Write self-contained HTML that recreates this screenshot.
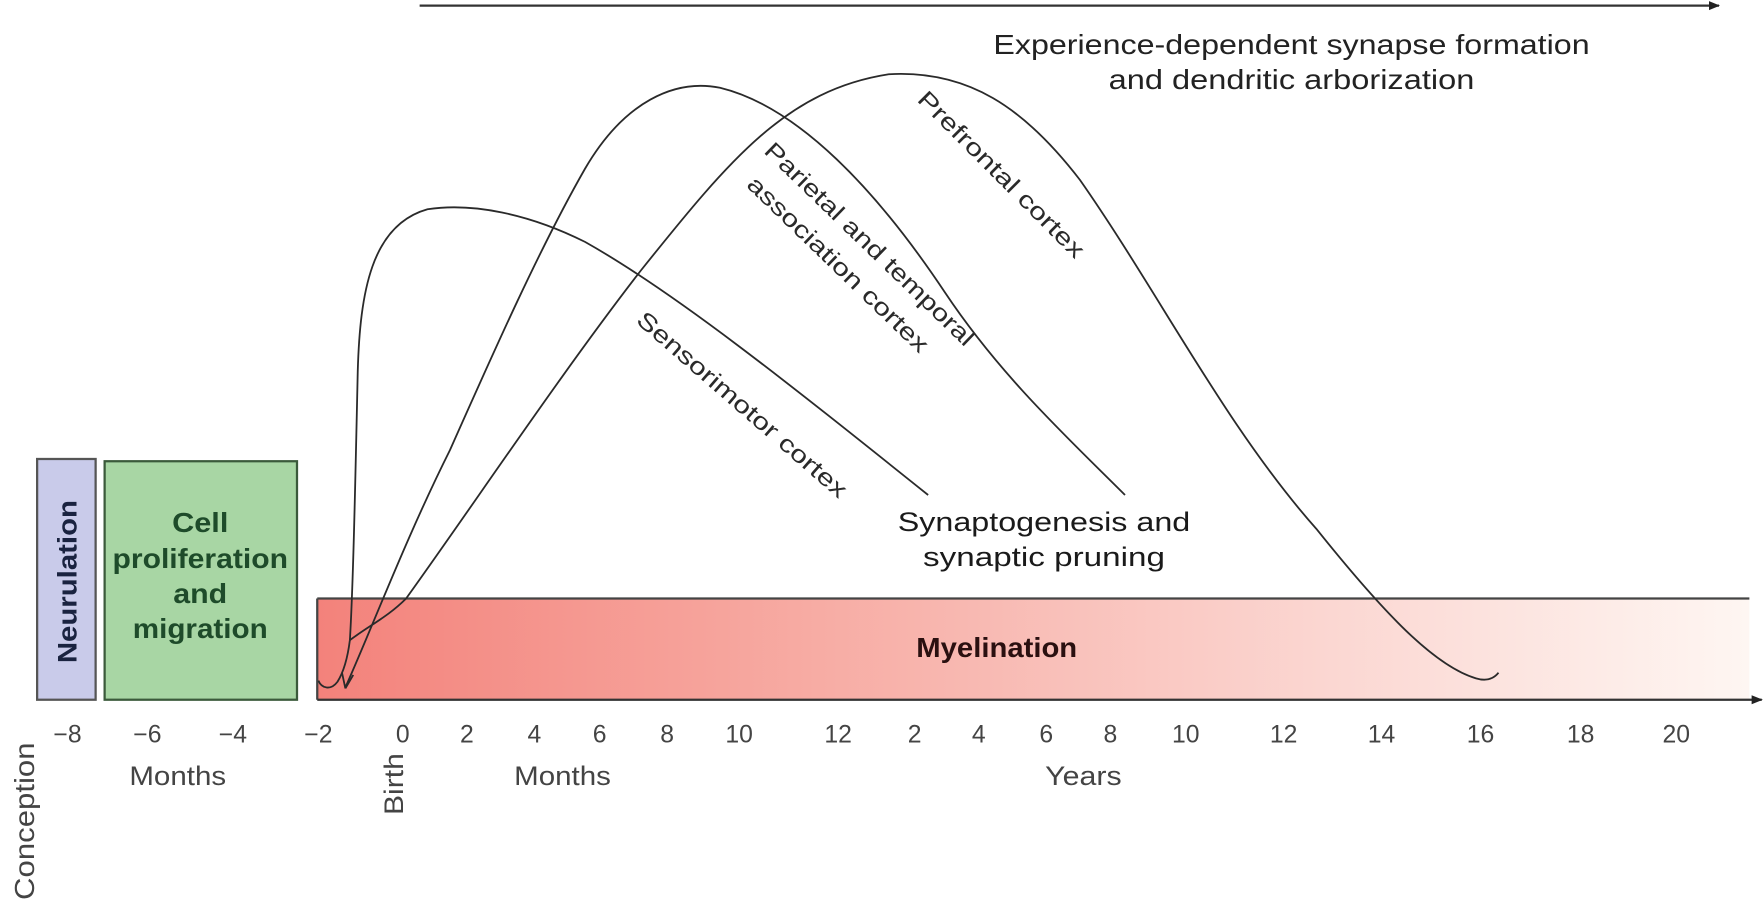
<!DOCTYPE html>
<html><head><meta charset="utf-8"><style>
html,body{margin:0;padding:0;background:#fff}
svg{display:block}
text{font-family:"Liberation Sans",Arial,sans-serif}
</style></head><body>
<svg width="1764" height="920" viewBox="0 0 1568 817.8" preserveAspectRatio="none" xmlns="http://www.w3.org/2000/svg">
<defs>
<linearGradient id="my" x1="0" x2="1" y1="0" y2="0">
<stop offset="0" stop-color="#f3827b"/>
<stop offset="0.35" stop-color="#f7aca4"/>
<stop offset="0.7" stop-color="#fbd6d1"/>
<stop offset="1" stop-color="#fef6f2"/>
</linearGradient>
<marker id="ah" markerWidth="10" markerHeight="10" refX="9" refY="5" orient="auto" markerUnits="userSpaceOnUse">
<path d="M0,1 L10,5 L0,9 z" fill="#222"/>
</marker>
</defs>
<line x1="373" y1="5" x2="1528" y2="5" stroke="#333" stroke-width="2" marker-end="url(#ah)"/>
<text x="1148" y="48" font-size="25" text-anchor="middle" fill="#222" textLength="530" lengthAdjust="spacingAndGlyphs">Experience-dependent synapse formation</text>
<text x="1148" y="79" font-size="25" text-anchor="middle" fill="#222" textLength="325" lengthAdjust="spacingAndGlyphs">and dendritic arborization</text>

<rect x="33" y="408" width="52" height="214" fill="#c9cbea" stroke="#555" stroke-width="2"/>
<text transform="translate(68,517) rotate(-90)" font-size="24" font-weight="bold" text-anchor="middle" fill="#1a2340" textLength="145" lengthAdjust="spacingAndGlyphs">Neurulation</text>
<rect x="93" y="410" width="171" height="212" fill="#a8d6a4" stroke="#3b5a3b" stroke-width="2"/>
<g font-size="25" font-weight="bold" text-anchor="middle" fill="#1e4b2a">
<text x="178" y="473" textLength="50" lengthAdjust="spacingAndGlyphs">Cell</text>
<text x="178" y="505" textLength="156" lengthAdjust="spacingAndGlyphs">proliferation</text>
<text x="178" y="536" textLength="48" lengthAdjust="spacingAndGlyphs">and</text>
<text x="178" y="567" textLength="120" lengthAdjust="spacingAndGlyphs">migration</text>
</g>
<rect x="282" y="532" width="1273" height="90" fill="url(#my)"/>
<line x1="282" y1="532" x2="1555" y2="532" stroke="#444" stroke-width="2"/>
<line x1="282" y1="532" x2="282" y2="622" stroke="#444" stroke-width="2"/>
<line x1="282" y1="622" x2="1566" y2="622" stroke="#333" stroke-width="2" marker-end="url(#ah)"/>
<text x="886" y="584" font-size="25" font-weight="bold" text-anchor="middle" fill="#2a1010" textLength="143" lengthAdjust="spacingAndGlyphs">Myelination</text>

<g fill="none" stroke="#2a2a2a" stroke-width="1.6">
<path d="M283,605 C286,612 294,614 300,606 C305,598 309,585 311,569 C314,520 316,420 318,330 C320,260 330,200 380,186 C420,180 470,190 520,215 C600,260 700,340 825,440"/>
<path d="M307,611 C330,560 360,480 400,400 C440,310 480,220 520,150 C555,90 600,70 640,78 C710,95 780,170 840,260 C890,335 950,390 1000,440"/>
<path d="M311,569 C330,555 345,548 361,532 C420,450 500,330 570,240 C650,140 700,80 790,66 C860,62 910,95 960,160 C1030,260 1090,380 1170,470 C1230,545 1275,592 1312,603 C1322,606 1328,603 1332,598"/>
</g>
<path d="M307,612 L304,598 M307,612 L314,600" stroke="#2a2a2a" stroke-width="1.6" fill="none"/>

<g font-size="21" fill="#2a2a2a" text-anchor="middle">
<text transform="translate(885,160) rotate(45)" textLength="200" lengthAdjust="spacingAndGlyphs">Prefrontal cortex</text>
<text transform="translate(768,222) rotate(44)" textLength="250" lengthAdjust="spacingAndGlyphs">Parietal and temporal</text>
<text transform="translate(740,240) rotate(44)" textLength="215" lengthAdjust="spacingAndGlyphs">association cortex</text>
<text transform="translate(655,365) rotate(41)" textLength="240" lengthAdjust="spacingAndGlyphs">Sensorimotor cortex</text>
</g>
<text x="928" y="472" font-size="24" text-anchor="middle" fill="#1a1a1a" textLength="260" lengthAdjust="spacingAndGlyphs">Synaptogenesis and</text>
<text x="928" y="503" font-size="24" text-anchor="middle" fill="#1a1a1a" textLength="215" lengthAdjust="spacingAndGlyphs">synaptic pruning</text>

<g font-size="22" fill="#444" text-anchor="middle">
<text x="60" y="660">−8</text><text x="131" y="660">−6</text><text x="207" y="660">−4</text><text x="283" y="660">−2</text>
<text x="358" y="660">0</text><text x="415" y="660">2</text><text x="475" y="660">4</text><text x="533" y="660">6</text>
<text x="593" y="660">8</text><text x="657" y="660">10</text><text x="745" y="660">12</text><text x="813" y="660">2</text>
<text x="870" y="660">4</text><text x="930" y="660">6</text><text x="987" y="660">8</text><text x="1054" y="660">10</text>
<text x="1141" y="660">12</text><text x="1228" y="660">14</text><text x="1316" y="660">16</text><text x="1405" y="660">18</text>
<text x="1490" y="660">20</text>
<text x="158" y="698" font-size="24" textLength="86" lengthAdjust="spacingAndGlyphs">Months</text>
<text x="500" y="698" font-size="24" textLength="86" lengthAdjust="spacingAndGlyphs">Months</text>
<text x="963" y="698" font-size="24" textLength="68" lengthAdjust="spacingAndGlyphs">Years</text>
<text transform="translate(358,697) rotate(-90)" font-size="24" textLength="55" lengthAdjust="spacingAndGlyphs">Birth</text>
<text transform="translate(30,730) rotate(-90)" font-size="25" textLength="140" lengthAdjust="spacingAndGlyphs">Conception</text>
</g>
</svg>
</body></html>
